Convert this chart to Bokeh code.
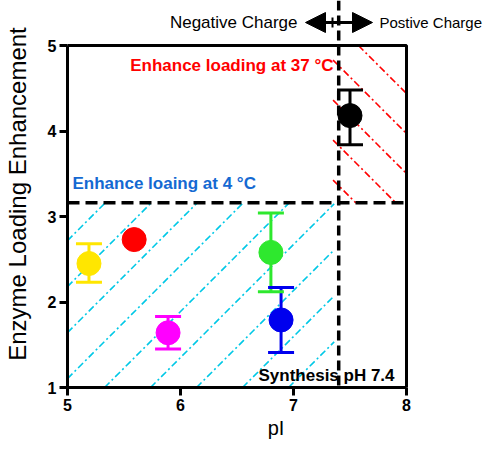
from bokeh.plotting import figure
from bokeh.models import Range1d, FixedTicker, BoxAnnotation, Label, Arrow, NormalHead
from bokeh.embed import file_html
from bokeh.resources import INLINE

# values
pI = [5.19, 5.59, 5.89, 6.80, 6.89, 7.50]
enhancement = [2.45, 2.73, 1.64, 2.58, 1.79, 4.18]
err_upper = [2.68, None, 1.83, 3.04, 2.17, 4.48]
err_lower = [2.23, None, 1.45, 2.12, 1.41, 3.84]
colors = ["#ffe600", "#ff0000", "#ff00ff", "#2ee82e", "#0000ee", "#000000"]

x_ticks = [5, 6, 7, 8]
y_ticks = [1, 2, 3, 4, 5]
synthesis_ph = 7.4
cutoff = 3.16

FONT = "Liberation Sans"
W, H = 484, 444
LEFT, TOP, BOTTOM = 67, 45, 387   # plot box edges in px (x=5, y=5, y=1)
x_per_px = 3 / (406 - LEFT)
y_per_px = 4 / (BOTTOM - TOP)
x_end = 5 + (W - LEFT) * x_per_px
y_end = 5 + TOP * y_per_px
slope = y_per_px / x_per_px  # 45 degrees on screen


def dx(px):
    return 5 + (px - LEFT) * x_per_px


def dy(py):
    return 1 + (BOTTOM - py) * y_per_px


p = figure(width=W, height=H, output_backend="svg", toolbar_location=None,
           x_range=Range1d(5, x_end), y_range=Range1d(1, y_end),
           min_border_left=LEFT, min_border_bottom=H - BOTTOM,
           min_border_top=0, min_border_right=0,
           x_axis_label="pI", y_axis_label="Enzyme Loading Enhancement")
p.outline_line_color = None
p.grid.visible = False
p.background_fill_color = "white"
p.border_fill_color = "white"

for ax, ticks, bnds in ((p.xaxis, x_ticks, (5, 8)), (p.yaxis, y_ticks, (1, 5))):
    ax.ticker = FixedTicker(ticks=ticks)
    ax.bounds = bnds
    ax.axis_line_width = 3
    ax.major_tick_line_width = 3
    ax.major_tick_in = 0
    ax.major_tick_out = 8
    ax.minor_tick_line_color = None
    ax.major_label_text_font = FONT
    ax.major_label_text_font_size = "16px"
    ax.major_label_text_font_style = "bold"
    ax.major_label_text_color = "black"
    ax.axis_label_text_font = FONT
    ax.axis_label_text_font_style = "normal"
    ax.axis_label_text_color = "black"
p.xaxis.major_label_standoff = 3
p.xaxis.axis_label_standoff = 3
p.xaxis.axis_label_text_font_size = "20px"
p.yaxis.major_label_standoff = 3
p.yaxis.axis_label_standoff = 14
p.yaxis.axis_label_text_font_size = "24px"

# cyan hatch (4 C region)
cx0, cy0, cx1, cy1 = [], [], [], []
for i in range(9):
    x0 = 3.70 + 0.407 * i
    xa = max(5, x0)
    xb = min(7.36, x0 + (cutoff - 1) / slope)
    if xa < xb:
        cx0.append(xa); cy0.append(1 + slope * (xa - x0))
        cx1.append(xb); cy1.append(1 + slope * (xb - x0))
p.segment(cx0, cy0, cx1, cy1, line_color="#00c8e6", line_width=1.6,
          line_dash="7 3 2 3")

# red hatch (37 C region)
rx0, ry0, rx1, ry1 = [], [], [], []
for i in range(5):
    xt = 7.575 - 0.354 * i
    xa = max(7.35, xt)
    xb = min(8, xt + (5 - cutoff) / slope)
    if xa < xb:
        rx0.append(xa); ry0.append(5 - slope * (xa - xt))
        rx1.append(xb); ry1.append(5 - slope * (xb - xt))
p.segment(rx0, ry0, rx1, ry1, line_color="#ff0000", line_width=1.6,
          line_dash="7 3 2 3")

# dashed guides
p.line([synthesis_ph, synthesis_ph], [y_end, 1], line_color="black",
       line_width=3.5, line_dash="10 5")
p.line([5, 8], [cutoff, cutoff], line_color="black", line_width=3.5,
       line_dash="12 6")

# error bars
ex, elo, ehi, ecol = [], [], [], []
for x, lo, hi, c in zip(pI, err_lower, err_upper, colors):
    if lo is not None:
        ex.append(x); elo.append(lo); ehi.append(hi); ecol.append(c)
p.segment(ex, elo, ex, ehi, line_color=ecol, line_width=3)
p.scatter(ex + ex, elo + ehi, marker="dash", size=26, line_color=ecol + ecol,
          line_width=3)

p.scatter(pI, enhancement, marker="circle", size=24, fill_color=colors,
          line_color=colors)

p.add_layout(BoxAnnotation(left=5, right=8, bottom=1, top=5, fill_alpha=0,
                           line_color="black", line_alpha=1, line_width=3))

# charge arrow on top
head = dict(size=20, fill_color="black", line_color="black")
p.add_layout(Arrow(start=NormalHead(**head), end=NormalHead(**head),
                   x_start=dx(305), x_end=dx(372), y_start=dy(22), y_end=dy(22),
                   line_width=3, line_color="black"))
p.segment([dx(332)], [dy(17)], [dx(332)], [dy(27)], line_color="black", line_width=2)


def label(x, y, text, color="black", size="17px", style="bold", align="left"):
    p.add_layout(Label(x=x, y=y, text=text, text_color=color, text_font=FONT,
                       text_font_size=size, text_font_style=style,
                       text_align=align, text_baseline="middle"))


label(dx(297), dy(22), "Negative Charge", size="17px", style="normal", align="right")
label(dx(379), dy(22), "Postive Charge", size="15px", style="normal")
label(dx(333), dy(65), "Enhance loading at 37 \u00b0C", color="#ff0000", align="right")
label(dx(72), dy(183), "Enhance loaing at 4 \u00b0C", color="#1469d2")
label(dx(258), dy(375), "Synthesis pH 7.4")

open("out.html", "w").write(file_html(p, INLINE))
